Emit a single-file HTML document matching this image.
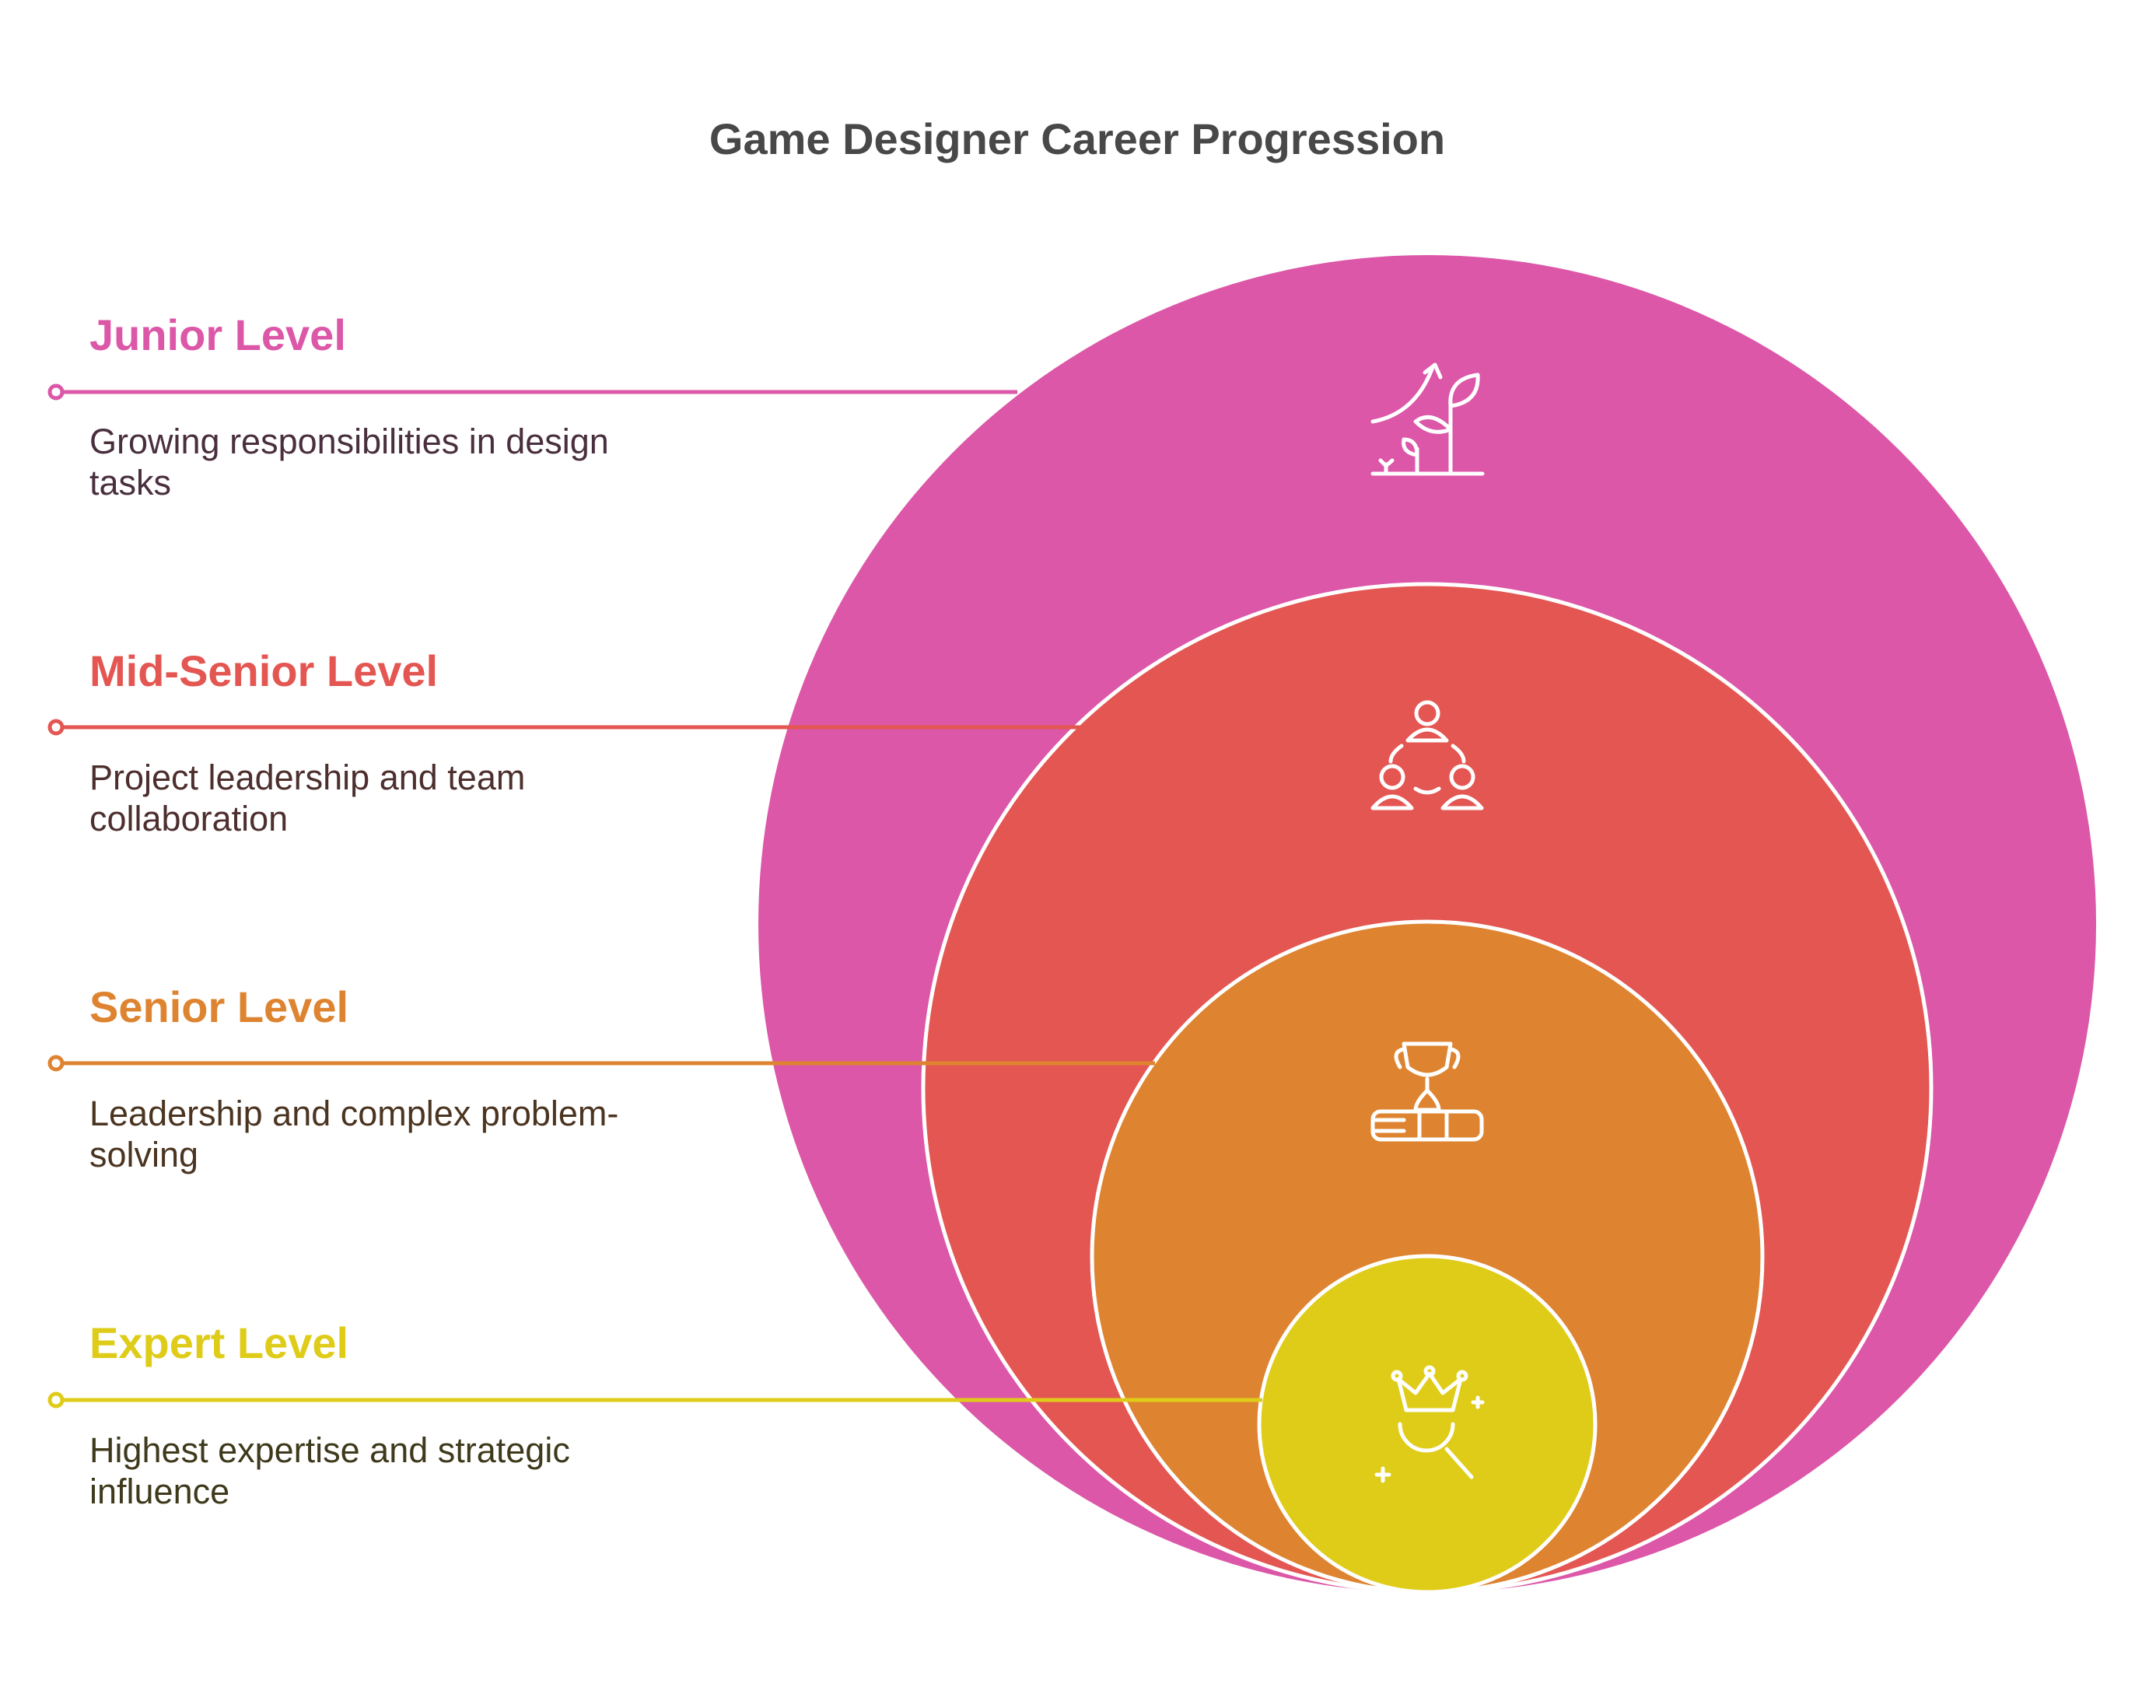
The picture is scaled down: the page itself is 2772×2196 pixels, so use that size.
<!DOCTYPE html>
<html><head><meta charset="utf-8"><style>
html,body{margin:0;padding:0;background:#fff;}
svg{display:block;}
text{font-family:"Liberation Sans",Arial,sans-serif;}
</style></head><body>
<svg width="2772" height="2196" viewBox="0 0 2772 2196" xmlns="http://www.w3.org/2000/svg">
<rect width="2772" height="2196" fill="#fff"/>
<text x="1385" y="198" text-anchor="middle" font-size="56" font-weight="bold" fill="#484848">Game Designer Career Progression</text>

<circle cx="1835" cy="1188" r="860" fill="#dc57a8"/>
<circle cx="1835" cy="1399" r="648" fill="#e45652" stroke="#fff" stroke-width="5"/>
<circle cx="1835" cy="1616" r="431" fill="#de8431" stroke="#fff" stroke-width="5"/>
<circle cx="1835" cy="1831" r="216" fill="#dfcc19" stroke="#fff" stroke-width="5"/>

<g stroke-width="5" fill="#fff">
<line x1="80" y1="504" x2="1308" y2="504" stroke="#dc57a8"/>
<circle cx="72" cy="504" r="8" stroke="#dc57a8"/>
<line x1="80" y1="935" x2="1388" y2="935" stroke="#e45652"/>
<circle cx="72" cy="935" r="8" stroke="#e45652"/>
<line x1="80" y1="1367" x2="1485" y2="1367" stroke="#de8431"/>
<circle cx="72" cy="1367" r="8" stroke="#de8431"/>
<line x1="80" y1="1800" x2="1623" y2="1800" stroke="#dfcc19"/>
<circle cx="72" cy="1800" r="8" stroke="#dfcc19"/>
</g>

<g font-weight="bold" font-size="56">
<text x="115" y="450" fill="#dc57a8">Junior Level</text>
<text x="115" y="882" fill="#e45652">Mid-Senior Level</text>
<text x="115" y="1314" fill="#de8431">Senior Level</text>
<text x="115" y="1746" fill="#dfcc19">Expert Level</text>
</g>
<g font-size="45">
<text x="115" y="583" fill="#4a2f3e">Growing responsibilities in design</text>
<text x="115" y="636" fill="#4a2f3e">tasks</text>
<text x="115" y="1015" fill="#4d2f2e">Project leadership and team</text>
<text x="115" y="1068" fill="#4d2f2e">collaboration</text>
<text x="115" y="1447" fill="#4b3521">Leadership and complex problem-</text>
<text x="115" y="1500" fill="#4b3521">solving</text>
<text x="115" y="1880" fill="#3f3a1c">Highest expertise and strategic</text>
<text x="115" y="1933" fill="#3f3a1c">influence</text>
</g>

<g fill="none" stroke="#fff" stroke-width="5" stroke-linecap="round" stroke-linejoin="round">
<g transform="translate(-10,-3)">
<line x1="1775" y1="612" x2="1916" y2="612"/>
<path d="M1775 545 Q1830 535 1852 475"/>
<path d="M1842 482 L1855 472 L1862 488"/>
<line x1="1875" y1="612" x2="1875" y2="520"/>
<path d="M1875 525 Q1872 490 1910 485 Q1912 520 1875 525Z"/>
<path d="M1875 555 Q1850 530 1830 545 Q1850 565 1875 555Z"/>
<line x1="1832" y1="612" x2="1832" y2="580"/>
<path d="M1832 588 Q1812 585 1815 568 Q1832 568 1832 588Z"/>
<path d="M1792 612 L1792 600 M1785 595 L1792 602 L1800 595"/>
</g>
<g transform="translate(-10,-6)">
<circle cx="1845" cy="923" r="14"/>
<path d="M1820 958 Q1845 930 1870 958 Z"/>
<circle cx="1800" cy="1005" r="14"/>
<path d="M1775 1045 Q1800 1015 1825 1045 Z"/>
<circle cx="1890" cy="1005" r="14"/>
<path d="M1865 1045 Q1890 1015 1915 1045 Z"/>
<path d="M1812 965 Q1798 975 1798 985"/>
<path d="M1878 965 Q1892 975 1892 985"/>
<path d="M1830 1020 Q1845 1030 1860 1020"/>
</g>
<g transform="translate(-10,-8)">
<path d="M1815 1350 L1875 1350 L1870 1380 Q1845 1400 1820 1380 Z"/>
<path d="M1815 1357 Q1798 1360 1810 1380"/>
<path d="M1875 1357 Q1892 1360 1880 1380"/>
<path d="M1845 1395 L1845 1410 Q1830 1425 1830 1435 L1860 1435 Q1860 1425 1845 1410"/>
<rect x="1775" y="1437" width="140" height="36" rx="10"/>
<line x1="1775" y1="1448" x2="1815" y2="1448"/>
<line x1="1775" y1="1462" x2="1815" y2="1462"/>
<line x1="1835" y1="1437" x2="1835" y2="1473"/>
<line x1="1870" y1="1437" x2="1870" y2="1473"/>
</g>
<g transform="translate(-10,-9)">
<path d="M1808 1782 L1818 1822 L1878 1822 L1888 1782 L1865 1800 L1848 1775 L1830 1800 Z"/>
<circle cx="1806" cy="1778" r="5"/><circle cx="1848" cy="1772" r="5"/><circle cx="1890" cy="1778" r="5"/>
<path d="M1810 1840 A32 32 0 1 0 1878 1840"/>
<line x1="1870" y1="1872" x2="1902" y2="1908"/>
<path d="M1904 1812 L1916 1812 M1910 1806 L1910 1818"/>
<path d="M1780 1905 L1796 1905 M1788 1897 L1788 1913"/>
</g>
</g>
</svg>
</body></html>
